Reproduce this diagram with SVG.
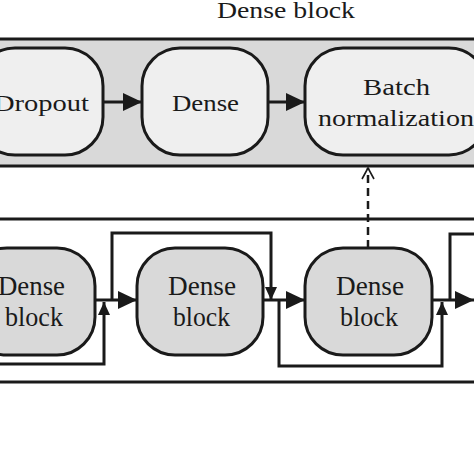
<svg xmlns="http://www.w3.org/2000/svg" width="474" height="474" viewBox="0 0 474 474">
  <style>
    text { font-family: "Liberation Serif", "Times New Roman", serif; fill: #1a1a1a; }
    .t { font-size: 24px; }
    .tb { font-size: 27px; }
    .title { font-size: 23px; }
    .frame { stroke: #1a1a1a; stroke-width: 3; }
    .nodeTop { fill: #efefef; stroke: #1a1a1a; stroke-width: 3; }
    .nodeBot { fill: #d9d9d9; stroke: #1a1a1a; stroke-width: 3; }
    .con { fill: none; stroke: #1a1a1a; stroke-width: 3; }
    .dash { fill: none; stroke: #1a1a1a; stroke-width: 2.5; stroke-dasharray: 8 5; }
  </style>
  <defs>
    <marker id="ah" markerUnits="userSpaceOnUse" markerWidth="20" markerHeight="18" refX="19" refY="9" orient="auto">
      <path d="M0,0 L19,9 L0,18 Z" fill="#1a1a1a"/>
    </marker>
    <marker id="as" markerUnits="userSpaceOnUse" markerWidth="14" markerHeight="12" refX="13" refY="6" orient="auto">
      <path d="M0,0 L13,6 L0,12 Z" fill="#1a1a1a"/>
    </marker>
    <marker id="oh" markerUnits="userSpaceOnUse" markerWidth="14" markerHeight="14" refX="12" refY="7" orient="auto">
      <path d="M1,1 L12,7 L1,13" fill="none" stroke="#1a1a1a" stroke-width="1.6"/>
    </marker>
  </defs>
  <rect width="474" height="474" fill="#ffffff"/>

  <g id="title">
    <text class="title" x="217" y="18" textLength="138" lengthAdjust="spacingAndGlyphs">Dense block</text>
  </g>

  <g id="dense-block-detail">
    <rect class="frame" x="-10" y="39" width="494" height="127" fill="#d9d9d9"/>
  </g>

  <g id="densenet-frame">
    <rect class="frame" x="-10" y="219" width="494" height="163" fill="#ffffff"/>
  </g>

  <g id="connectors">
    <line class="con" x1="103" y1="102" x2="142" y2="102" marker-end="url(#ah)"/>
    <line class="con" x1="268" y1="102" x2="305" y2="102" marker-end="url(#ah)"/>
    <path class="dash" d="M368,248 V168" marker-end="url(#oh)"/>

    <line class="con" x1="95" y1="300" x2="137" y2="300" marker-end="url(#ah)"/>
    <path class="con" d="M-10,364 H104 V302" marker-end="url(#as)"/>
    <path class="con" d="M112,300 V233 H271 V300" marker-end="url(#as)"/>
    <line class="con" x1="263" y1="300" x2="305" y2="300" marker-end="url(#ah)"/>
    <path class="con" d="M279,300 V366 H442 V302" marker-end="url(#as)"/>
    <line class="con" x1="432" y1="300" x2="474" y2="300" marker-end="url(#ah)"/>
    <path class="con" d="M450,300 V234 H484"/>
  </g>

  <g id="dropout">
    <rect class="nodeTop" x="-23" y="48" width="126" height="107" rx="38" ry="38"/>
    <text class="t" x="-6" y="111" textLength="95" lengthAdjust="spacingAndGlyphs">Dropout</text>
  </g>
  <g id="dense">
    <rect class="nodeTop" x="142" y="48" width="126" height="107" rx="38" ry="38"/>
    <text class="t" x="172" y="111" textLength="67" lengthAdjust="spacingAndGlyphs">Dense</text>
  </g>
  <g id="batch-normalization">
    <rect class="nodeTop" x="305" y="48" width="182" height="107" rx="38" ry="38"/>
    <text class="t" x="363" y="95" textLength="67" lengthAdjust="spacingAndGlyphs">Batch</text>
    <text class="t" x="318" y="126" textLength="156" lengthAdjust="spacingAndGlyphs">normalization</text>
  </g>

  <g id="dense-block-1">
    <rect class="nodeBot" x="-31" y="248" width="126" height="107" rx="38" ry="38"/>
    <text class="tb" x="-2" y="295" textLength="67" lengthAdjust="spacingAndGlyphs">Dense</text>
    <text class="tb" x="5" y="326" textLength="58" lengthAdjust="spacingAndGlyphs">block</text>
  </g>
  <g id="dense-block-2">
    <rect class="nodeBot" x="137" y="248" width="126" height="107" rx="38" ry="38"/>
    <text class="tb" x="168" y="295" textLength="68" lengthAdjust="spacingAndGlyphs">Dense</text>
    <text class="tb" x="173" y="326" textLength="57" lengthAdjust="spacingAndGlyphs">block</text>
  </g>
  <g id="dense-block-3">
    <rect class="nodeBot" x="305" y="248" width="127" height="107" rx="38" ry="38"/>
    <text class="tb" x="336" y="295" textLength="68" lengthAdjust="spacingAndGlyphs">Dense</text>
    <text class="tb" x="340" y="326" textLength="58" lengthAdjust="spacingAndGlyphs">block</text>
  </g>
</svg>
